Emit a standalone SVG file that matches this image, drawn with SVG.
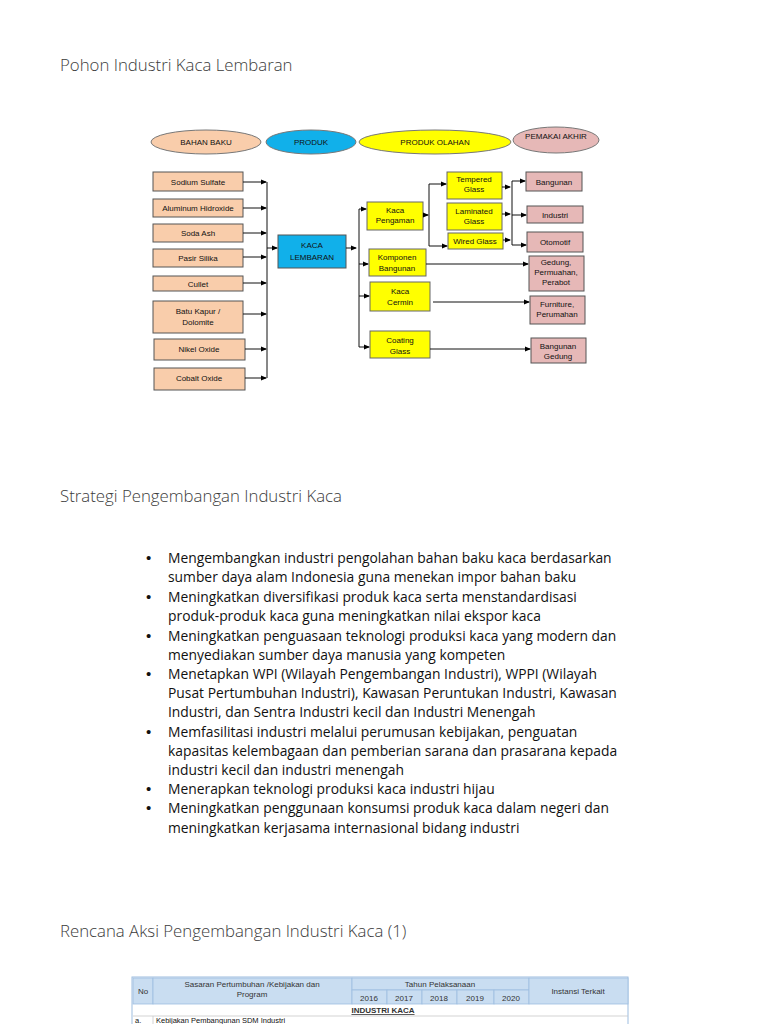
<svg xmlns="http://www.w3.org/2000/svg" width="768" height="1024" viewBox="0 0 768 1024">
<defs>
<marker id="ah" markerWidth="6" markerHeight="6" refX="5" refY="3" orient="auto" markerUnits="userSpaceOnUse">
<path d="M0,0.5 L6,3 L0,5.5 Z" fill="#000"/>
</marker>
<style>
.h{font-family:"Open Sans","Noto Sans",sans-serif;font-weight:300;font-size:16.8px;fill:#3b3b3b}
.b{font-family:"Open Sans","Noto Sans",sans-serif;font-size:13.85px;fill:#111}
.bl{font-family:"Liberation Sans",Arial,sans-serif;font-size:15px;fill:#111}
.t{font-family:"Liberation Sans",Arial,sans-serif;font-size:8px;fill:#111;text-anchor:middle}
.peach{fill:#f9cdab;stroke:#555;stroke-width:1}
.blue{fill:#11b0ea;stroke:#555;stroke-width:1}
.yel{fill:#ffff00;stroke:#666;stroke-width:1}
.pink{fill:#e6b8b7;stroke:#555;stroke-width:1}
.ell{stroke:#777;stroke-width:1}
.c{fill:none;stroke:#111;stroke-width:1}
.ca{fill:none;stroke:#111;stroke-width:1;marker-end:url(#ah)}
.tb{font-family:"Liberation Sans",Arial,sans-serif;font-size:8px;fill:#333;text-anchor:middle}
.tl{font-family:"Liberation Sans",Arial,sans-serif;font-size:7.5px;fill:#111}
.hd{fill:#c9ddf1;stroke:#9dbde0;stroke-width:0.8}
</style>
</defs>
<rect width="768" height="1024" fill="#fff"/>

<text class="h" x="60" y="71">Pohon Industri Kaca Lembaran</text>

<!-- header ellipses -->
<g id="hdr-bahan-baku"><ellipse class="ell" cx="206" cy="142" rx="55" ry="12" fill="#f9cdab"/><text class="t" x="206" y="145" font-size="8.6">BAHAN BAKU</text></g>
<g id="hdr-produk"><ellipse class="ell" cx="311" cy="142" rx="45" ry="12" fill="#11b0ea"/><text class="t" x="311" y="145" font-size="8.6">PRODUK</text></g>
<g id="hdr-produk-olahan"><ellipse class="ell" cx="435" cy="142" rx="76" ry="12" fill="#ffff00"/><text class="t" x="435" y="145" font-size="8.6">PRODUK OLAHAN</text></g>
<g id="hdr-pemakai-akhir"><ellipse class="ell" cx="556" cy="140" rx="43" ry="13" fill="#e6b8b7"/><text class="t" x="556" y="139" font-size="7">PEMAKAI AKHIR</text></g>

<!-- raw materials -->
<g id="n-sodium"><rect class="peach" x="153" y="172" width="90" height="19"/><text class="t" x="198" y="184.5" font-size="8.6">Sodium Sulfate</text></g>
<g id="n-aluminum"><rect class="peach" x="153" y="199" width="90" height="18"/><text class="t" x="198" y="210.5" font-size="7.2">Aluminum Hidroxide</text></g>
<g id="n-soda"><rect class="peach" x="153" y="224" width="90" height="18"/><text class="t" x="198" y="236" font-size="8.6">Soda Ash</text></g>
<g id="n-pasir"><rect class="peach" x="153" y="249" width="90" height="18"/><text class="t" x="198" y="261" font-size="8.6">Pasir Silika</text></g>
<g id="n-cullet"><rect class="peach" x="153" y="276" width="90" height="15"/><text class="t" x="198" y="287" font-size="8.6">Cullet</text></g>
<g id="n-batu"><rect class="peach" x="153" y="301" width="90" height="32"/><text class="t" x="198" y="313.5" font-size="8.6">Batu Kapur /</text><text class="t" x="198" y="324.5" font-size="8.6">Dolomite</text></g>
<g id="n-nikel"><rect class="peach" x="154" y="339" width="91" height="21"/><text class="t" x="199" y="351.5" font-size="8.6">Nikel Oxide</text></g>
<g id="n-cobalt"><rect class="peach" x="154" y="368" width="91" height="22"/><text class="t" x="199" y="380.5" font-size="8.6">Cobalt Oxide</text></g>

<!-- product -->
<g id="n-kaca-lembaran"><rect class="blue" x="278" y="235" width="68" height="33"/><text class="t" x="312" y="248" font-size="8.6">KACA</text><text class="t" x="312" y="259.5" font-size="8.6">LEMBARAN</text></g>

<!-- processed -->
<g id="n-kaca-pengaman"><rect class="yel" x="367" y="202" width="56" height="28"/><text class="t" x="395" y="213" font-size="7.4">Kaca</text><text class="t" x="395" y="223" font-size="7.4">Pengaman</text></g>
<g id="n-komponen"><rect class="yel" x="369" y="249" width="57" height="27"/><text class="t" x="397" y="260" font-size="8.3">Komponen</text><text class="t" x="397" y="271" font-size="8.3">Bangunan</text></g>
<g id="n-kaca-cermin"><rect class="yel" x="370" y="282" width="60" height="29"/><text class="t" x="400" y="294" font-size="8.3">Kaca</text><text class="t" x="400" y="305" font-size="8.3">Cermin</text></g>
<g id="n-coating"><rect class="yel" x="370" y="331" width="60" height="27"/><text class="t" x="400" y="342.5" font-size="8.3">Coating</text><text class="t" x="400" y="353.5" font-size="8.3">Glass</text></g>
<g id="n-tempered"><rect class="yel" x="447" y="172" width="55" height="27"/><text class="t" x="474" y="182" font-size="7">Tempered</text><text class="t" x="474" y="192" font-size="7">Glass</text></g>
<g id="n-laminated"><rect class="yel" x="447" y="203" width="55" height="27"/><text class="t" x="474" y="214" font-size="7">Laminated</text><text class="t" x="474" y="224" font-size="7">Glass</text></g>
<g id="n-wired"><rect class="yel" x="448" y="233" width="55" height="16"/><text class="t" x="475" y="243.5" font-size="7">Wired Glass</text></g>

<!-- end users -->
<g id="n-bangunan"><rect class="pink" x="526" y="172" width="56" height="19"/><text class="t" x="554" y="184.5" font-size="9">Bangunan</text></g>
<g id="n-industri"><rect class="pink" x="527" y="206" width="56" height="17"/><text class="t" x="555" y="217.5" font-size="9">Industri</text></g>
<g id="n-otomotif"><rect class="pink" x="527" y="232" width="56" height="20"/><text class="t" x="555" y="245" font-size="9">Otomotif</text></g>
<g id="n-gedung"><rect class="pink" x="529" y="256" width="55" height="35"/><text class="t" x="556" y="265" font-size="6.5">Gedung,</text><text class="t" x="556" y="275" font-size="6.5">Permuahan,</text><text class="t" x="556" y="285" font-size="6.5">Perabot</text></g>
<g id="n-furniture"><rect class="pink" x="530" y="296" width="55" height="28"/><text class="t" x="557" y="307" font-size="6.5">Furniture,</text><text class="t" x="557" y="316.5" font-size="6.5">Perumahan</text></g>
<g id="n-bangunan-gedung"><rect class="pink" x="531" y="338" width="55" height="25"/><text class="t" x="558" y="349" font-size="6.5">Bangunan</text><text class="t" x="558" y="358.5" font-size="6.5">Gedung</text></g>

<!-- connectors -->
<g id="connectors">
<path class="ca" d="M243,182 H266"/>
<path class="ca" d="M243,208 H266"/>
<path class="ca" d="M243,233 H266"/>
<path class="ca" d="M243,257 H266"/>
<path class="ca" d="M243,283 H266"/>
<path class="ca" d="M243,314 H266"/>
<path class="ca" d="M245,349 H266"/>
<path class="ca" d="M245,378 H266"/>
<path class="c" d="M267,182 V378"/>
<path class="ca" d="M267,248 H277"/>
<path class="ca" d="M346,248 H356"/>
<path class="c" d="M359,209 V347"/>
<path class="ca" d="M359,209 H366"/>
<path class="ca" d="M359,264 H368"/>
<path class="ca" d="M359,296 H369"/>
<path class="ca" d="M359,347 H369"/>
<path class="ca" d="M423,215 H428"/>
<path class="c" d="M429,184 V246"/>
<path class="ca" d="M429,184 H446"/>
<path class="ca" d="M429,246 H447"/>
<path class="ca" d="M502,187 H510"/>
<path class="ca" d="M502,214 H510"/>
<path class="ca" d="M503,240 H510"/>
<path class="c" d="M512,181 V245"/>
<path class="ca" d="M512,181 H525"/>
<path class="ca" d="M512,215 H526"/>
<path class="ca" d="M512,245 H526"/>
<path class="ca" d="M426,264 H528"/>
<path class="ca" d="M433,302 H529"/>
<path class="ca" d="M430,349 H530"/>
</g>

<text class="h" x="60" y="502">Strategi Pengembangan Industri Kaca</text>

<g id="bullets">
<g class="bl">
<text x="146" y="563">•</text>
<text x="146" y="602">•</text>
<text x="146" y="641">•</text>
<text x="146" y="679">•</text>
<text x="146" y="737">•</text>
<text x="146" y="794">•</text>
<text x="146" y="813">•</text>
</g>
<g class="b">
<text x="168" y="563">Mengembangkan industri pengolahan bahan baku kaca berdasarkan</text>
<text x="168" y="582">sumber daya alam Indonesia guna menekan impor bahan baku</text>
<text x="168" y="602">Meningkatkan diversifikasi produk kaca serta menstandardisasi</text>
<text x="168" y="621">produk-produk kaca guna meningkatkan nilai ekspor kaca</text>
<text x="168" y="641">Meningkatkan penguasaan teknologi produksi kaca yang modern dan</text>
<text x="168" y="660">menyediakan sumber daya manusia yang kompeten</text>
<text x="168" y="679">Menetapkan WPI (Wilayah Pengembangan Industri), WPPI (Wilayah</text>
<text x="168" y="698">Pusat Pertumbuhan Industri), Kawasan Peruntukan Industri, Kawasan</text>
<text x="168" y="717">Industri, dan Sentra Industri kecil dan Industri Menengah</text>
<text x="168" y="737">Memfasilitasi industri melalui perumusan kebijakan, penguatan</text>
<text x="168" y="756">kapasitas kelembagaan dan pemberian sarana dan prasarana kepada</text>
<text x="168" y="775">industri kecil dan industri menengah</text>
<text x="168" y="794">Menerapkan teknologi produksi kaca industri hijau</text>
<text x="168" y="813">Meningkatkan penggunaan konsumsi produk kaca dalam negeri dan</text>
<text x="168" y="833">meningkatkan kerjasama internasional bidang industri</text>
</g>
</g>

<text class="h" x="60" y="937">Rencana Aksi Pengembangan Industri Kaca (1)</text>

<!-- table -->
<g id="table">
<rect x="132" y="977" width="496" height="50" fill="#fff" stroke="#9dbde0" stroke-width="1"/>
<rect class="hd" x="133" y="978" width="20" height="26"/>
<rect class="hd" x="153" y="978" width="199" height="26"/>
<rect class="hd" x="352" y="978" width="177" height="12"/>
<rect class="hd" x="352" y="990" width="35" height="14"/>
<rect class="hd" x="387" y="990" width="35" height="14"/>
<rect class="hd" x="422" y="990" width="35" height="14"/>
<rect class="hd" x="457" y="990" width="37" height="14"/>
<rect class="hd" x="494" y="990" width="35" height="14"/>
<rect class="hd" x="529" y="978" width="99" height="26"/>
<line x1="133" y1="1016" x2="628" y2="1016" stroke="#c8c8c8" stroke-width="0.8"/>
<line x1="153" y1="1016" x2="153" y2="1024" stroke="#c8c8c8" stroke-width="0.8"/>
<text class="tb" x="143" y="994">No</text>
<text class="tb" x="252" y="987">Sasaran Pertumbuhan /Kebijakan dan</text>
<text class="tb" x="252" y="997">Program</text>
<text class="tb" x="440" y="987">Tahun Pelaksanaan</text>
<text class="tb" x="369" y="1001">2016</text>
<text class="tb" x="404" y="1001">2017</text>
<text class="tb" x="439" y="1001">2018</text>
<text class="tb" x="475" y="1001">2019</text>
<text class="tb" x="511" y="1001">2020</text>
<text class="tb" x="578" y="994">Instansi Terkait</text>
<text class="tb" x="383" y="1013" font-weight="bold" fill="#111" text-decoration="underline">INDUSTRI KACA</text>
<text class="tl" x="135" y="1022.5">a.</text>
<text class="tl" x="156" y="1022.5">Kebijakan Pembangunan SDM Industri</text>
</g>
</svg>
